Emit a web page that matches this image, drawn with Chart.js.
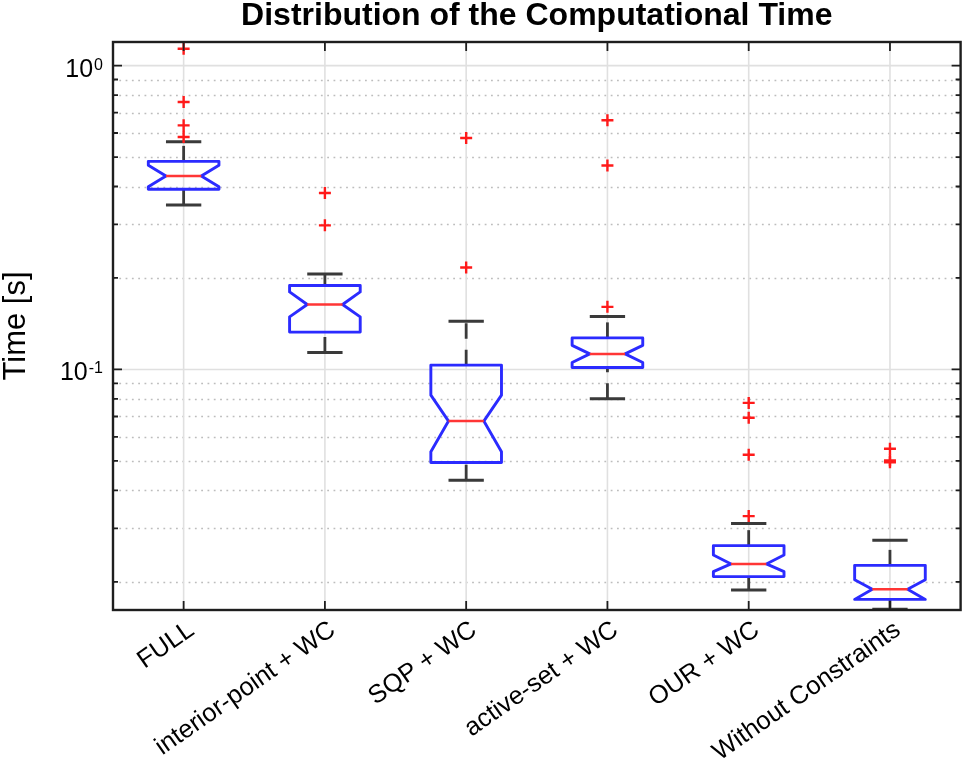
<!DOCTYPE html>
<html>
<head>
<meta charset="utf-8">
<script src="https://cdn.jsdelivr.net/npm/chart.js@4.4.1/dist/chart.umd.min.js"></script>
<style>
  html, body { margin: 0; padding: 0; background: #fff; }
  canvas { display: block; }
</style>
</head>
<body>
<canvas id="chart" width="969" height="766"></canvas>
<script>
const categories = ["FULL", "interior-point + WC", "SQP + WC", "active-set + WC", "OUR + WC", "Without Constraints"];

// box statistics per category (seconds)
const whiskerLow = [0.348, 0.1137, 0.0432, 0.080, 0.0188, 0.01625];
const q1 = [0.392, 0.1327, 0.0494, 0.1015, 0.0208, 0.0175];
const median = [0.433, 0.1636, 0.0676, 0.1125, 0.0229, 0.0189];
const q3 = [0.484, 0.189, 0.1033, 0.127, 0.0263, 0.02265];
const whiskerHigh = [0.562, 0.206, 0.144, 0.1494, 0.0311, 0.0274];
const notchLow = [0.399, 0.149, 0.0536, 0.1054, 0.0216, 0.0175];
const notchHigh = [0.470, 0.180, 0.0823, 0.120, 0.0245, 0.0203];
const outliers = [
  [1.137, 0.759, 0.636, 0.582],
  [0.381, 0.298],
  [0.578, 0.2166],
  [0.661, 0.469, 0.1607],
  [0.0776, 0.0693, 0.0524, 0.0329],
  [0.0548, 0.0502, 0.0495]
];

const yMin = 0.01615;
const yMax = 1.196;
const yMajorTicks = [0.1, 1];
const yMinorTicks = [0.02, 0.03, 0.04, 0.05, 0.06, 0.07, 0.08, 0.09, 0.2, 0.3, 0.4, 0.5, 0.6, 0.7, 0.8, 0.9];
const yTickBase = ["10", "10"];
const yTickExp = ["-1", "0"];

const FONT = "'Liberation Sans', Arial, Helvetica, sans-serif";

const outlierPoints = [];
outliers.forEach((list, i) => {
  list.forEach((v) => outlierPoints.push({ x: categories[i], y: v }));
});

const boxPlugin = {
  id: "boxes",
  beforeDatasetsDraw(chart) {
    const { ctx, chartArea: a, scales: { x, y } } = chart;
    ctx.save();

    // minor dotted grid
    ctx.setLineDash([1.8, 4.5]);
    ctx.strokeStyle = "#bdbdbd";
    ctx.lineWidth = 1.4;
    yMinorTicks.forEach((v) => {
      const py = Math.round(y.getPixelForValue(v)) + 0.5;
      ctx.beginPath();
      ctx.moveTo(a.left, py);
      ctx.lineTo(a.right, py);
      ctx.stroke();
    });

    // major solid grid
    ctx.setLineDash([]);
    ctx.strokeStyle = "#e0e0e0";
    ctx.lineWidth = 1.6;
    yMajorTicks.forEach((v) => {
      const py = y.getPixelForValue(v);
      ctx.beginPath();
      ctx.moveTo(a.left, py);
      ctx.lineTo(a.right, py);
      ctx.stroke();
    });
    categories.forEach((c, i) => {
      const px = x.getPixelForValue(i);
      ctx.beginPath();
      ctx.moveTo(px, a.top);
      ctx.lineTo(px, a.bottom);
      ctx.stroke();
    });

    // boxes
    categories.forEach((c, i) => {
      const cx = x.getPixelForValue(i);
      const left = x.getPixelForValue(i - 0.25);
      const right = x.getPixelForValue(i + 0.25);
      const inL = x.getPixelForValue(i - 0.125);
      const inR = x.getPixelForValue(i + 0.125);
      const yQ1 = y.getPixelForValue(q1[i]);
      const yQ3 = y.getPixelForValue(q3[i]);
      const yMed = y.getPixelForValue(median[i]);
      const yNL = y.getPixelForValue(Math.max(notchLow[i], q1[i]));
      const yNH = y.getPixelForValue(Math.min(notchHigh[i], q3[i]));
      const yWL = y.getPixelForValue(whiskerLow[i]);
      const yWH = y.getPixelForValue(whiskerHigh[i]);

      // whiskers, dashed, drawn upward
      ctx.strokeStyle = "#3a3a3a";
      ctx.lineWidth = 2.8;
      ctx.setLineDash([15.5, 11]);
      ctx.beginPath();
      ctx.moveTo(cx, yWL);
      ctx.lineTo(cx, yQ1);
      ctx.stroke();
      ctx.beginPath();
      ctx.moveTo(cx, yQ3);
      ctx.lineTo(cx, yWH);
      ctx.stroke();

      // caps
      ctx.setLineDash([]);
      ctx.lineWidth = 3;
      ctx.beginPath();
      ctx.moveTo(inL, yWL);
      ctx.lineTo(inR, yWL);
      ctx.moveTo(inL, yWH);
      ctx.lineTo(inR, yWH);
      ctx.stroke();

      // notched box
      ctx.strokeStyle = "#2b2bff";
      ctx.lineWidth = 2.9;
      ctx.lineJoin = "round";
      ctx.beginPath();
      ctx.moveTo(left, yQ3);
      ctx.lineTo(right, yQ3);
      ctx.lineTo(right, yNH);
      ctx.lineTo(inR, yMed);
      ctx.lineTo(right, yNL);
      ctx.lineTo(right, yQ1);
      ctx.lineTo(left, yQ1);
      ctx.lineTo(left, yNL);
      ctx.lineTo(inL, yMed);
      ctx.lineTo(left, yNH);
      ctx.closePath();
      ctx.stroke();

      // median
      ctx.strokeStyle = "#ff3535";
      ctx.lineWidth = 2.5;
      ctx.beginPath();
      ctx.moveTo(inL, yMed);
      ctx.lineTo(inR, yMed);
      ctx.stroke();
    });
    ctx.restore();
  },
  afterDatasetsDraw(chart) {
    const { ctx, chartArea: a, scales: { x, y } } = chart;
    ctx.save();
    ctx.strokeStyle = "#1e1e1e";

    // ticks (inward, both sides)
    ctx.lineWidth = 1.8;
    yMajorTicks.forEach((v) => {
      const py = y.getPixelForValue(v);
      ctx.beginPath();
      ctx.moveTo(a.left, py); ctx.lineTo(a.left + 9, py);
      ctx.moveTo(a.right, py); ctx.lineTo(a.right - 9, py);
      ctx.stroke();
    });
    yMinorTicks.forEach((v) => {
      const py = y.getPixelForValue(v);
      ctx.beginPath();
      ctx.moveTo(a.left, py); ctx.lineTo(a.left + 5, py);
      ctx.moveTo(a.right, py); ctx.lineTo(a.right - 5, py);
      ctx.stroke();
    });
    categories.forEach((c, i) => {
      const px = x.getPixelForValue(i);
      ctx.beginPath();
      ctx.moveTo(px, a.bottom); ctx.lineTo(px, a.bottom - 9);
      ctx.moveTo(px, a.top); ctx.lineTo(px, a.top + 9);
      ctx.stroke();
    });

    // axes box
    ctx.lineWidth = 2.4;
    ctx.strokeRect(a.left, a.top, a.right - a.left, a.bottom - a.top);

    // y tick labels 10^n
    ctx.fillStyle = "#000";
    ctx.textBaseline = "alphabetic";
    yMajorTicks.forEach((v, k) => {
      const py = y.getPixelForValue(v);
      ctx.font = "16px " + FONT;
      const ew = ctx.measureText(yTickExp[k]).width;
      const rightEdge = a.left - 10;
      ctx.textAlign = "left";
      ctx.fillText(yTickExp[k], rightEdge - ew, py + 4);
      ctx.font = "25px " + FONT;
      ctx.textAlign = "right";
      ctx.fillText(yTickBase[k], rightEdge - ew - 1, py + 11);
    });
    ctx.restore();
  }
};

new Chart(document.getElementById("chart"), {
  type: "line",
  data: {
    labels: categories,
    datasets: [
      {
        label: "Outliers",
        data: outlierPoints,
        showLine: false,
        pointStyle: "cross",
        pointRadius: 6,
        pointBorderColor: "#ff1a1a",
        pointBorderWidth: 2.4,
        pointBackgroundColor: "#ff1a1a"
      }
    ]
  },
  options: {
    responsive: false,
    animation: false,
    layout: { padding: { left: 0, right: 5, top: 0, bottom: 0 } },
    plugins: {
      legend: { display: false },
      tooltip: { enabled: false },
      title: {
        display: true,
        fullSize: false,
        text: "Distribution of the Computational Time",
        color: "#000",
        font: { family: FONT, size: 32, weight: "bold", lineHeight: 1 },
        padding: { top: 0, bottom: 10 }
      }
    },
    scales: {
      x: {
        type: "category",
        offset: true,
        grid: { display: false, drawTicks: false },
        border: { display: false },
        ticks: {
          color: "#000",
          font: { family: FONT, size: 25.5 },
          minRotation: 35,
          maxRotation: 35,
          autoSkip: false,
          padding: 5,
          labelOffset: 8
        },
        afterFit(scale) { scale.height = 156; }
      },
      y: {
        type: "logarithmic",
        min: yMin,
        max: yMax,
        grid: { display: false, drawTicks: false },
        border: { display: false },
        ticks: { display: false },
        title: {
          display: true,
          text: "Time [s]",
          color: "#000",
          font: { family: FONT, size: 31, lineHeight: 1 },
          padding: { top: 1, bottom: 0 }
        },
        afterFit(scale) { scale.width = 113; }
      }
    }
  },
  plugins: [boxPlugin]
});
</script>
</body>
</html>
